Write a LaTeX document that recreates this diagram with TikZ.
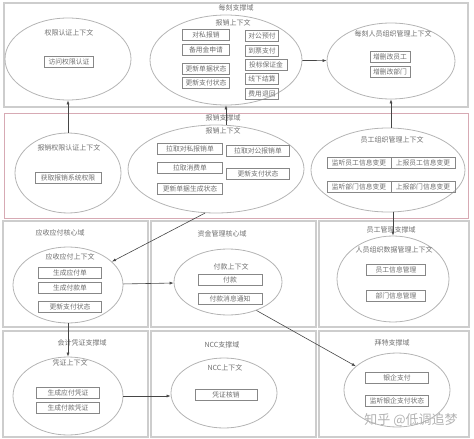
\documentclass[tikz,border=0pt]{standalone}
\usepackage{fontspec}
\newfontfamily\cjk{Noto Sans CJK SC}
\usetikzlibrary{shapes.geometric,arrows.meta}
\definecolor{dline}{RGB}{205,205,205}
\definecolor{rline}{RGB}{215,170,180}
\definecolor{eline}{RGB}{180,180,180}
\definecolor{bline}{RGB}{135,135,135}
\definecolor{tcol}{RGB}{110,110,110}
\definecolor{acol}{RGB}{70,70,70}
\begin{document}
\begin{tikzpicture}[x=1pt,y=-1pt,
  dombox/.style={draw=dline, line width=1.3pt},
  reddombox/.style={draw=rline, line width=1pt},
  ctx/.style={ellipse, draw=eline, line width=0.8pt, inner sep=0pt},
  lbl/.style={font=\cjk\fontsize{7}{8}\selectfont, text=tcol, inner sep=0pt},
  itembox/.style={draw=bline, line width=0.7pt, font=\cjk\fontsize{6.8}{8}\selectfont, text=tcol,
               minimum height=11pt, inner sep=1pt, align=center},
  conn/.style={draw=acol, line width=0.6pt, -{Latex[length=4pt,width=3pt]}},
  wmark/.style={font=\cjk\fontsize{13}{14}\selectfont, text=black!30, inner sep=0pt}]
\useasboundingbox (0,0) rectangle (474,439);
% domains
\draw[dombox] (4,3) rectangle (468,107);
\draw[reddombox] (4,113) rectangle (468,218);
\draw[dombox] (3,221) rectangle (148,327);
\draw[dombox] (151,221) rectangle (316,327);
\draw[dombox] (319,221) rectangle (469,327);
\draw[dombox] (3,331) rectangle (148,437);
\draw[dombox] (151,331) rectangle (316,437);
\draw[dombox] (319,331) rectangle (469,437);
\node[lbl] (t1) at (236,8) {每刻支撑域};
\node[lbl] (t2) at (223,118) {报销支撑域};
\node[lbl] (t3) at (60,233) {应收应付核心域};
\node[lbl] (t4) at (222,234) {资金管理核心域};
\node[lbl] (t5) at (391,230) {员工管理支撑域};
\node[lbl] (t6) at (82,343) {会计凭证支撑域};
\node[lbl] (t7) at (222,345) {NCC支撑域};
\node[lbl] (t8) at (392,343) {拜特支撑域};
% row 1
\node[ctx, minimum width=126pt, minimum height=82pt] (a1) at (68,59) {};
\node[lbl] (a1l) at (69,33) {权限认证上下文};
\node[itembox, minimum width=49pt] (a1b1) at (69,62) {访问权限认证};
\node[ctx, minimum width=152pt, minimum height=90pt] (m1) at (226,60) {};
\node[lbl] (m1l) at (233,23) {报销上下文};
\node[itembox, minimum width=47pt] (m1b1) at (206,35) {对私报销};
\node[itembox, minimum width=47pt] (m1b2) at (206,50) {备用金申请};
\node[itembox, minimum width=47pt] (m1b3) at (206,69) {更新单据状态};
\node[itembox, minimum width=47pt] (m1b4) at (206,83) {更新支付状态};
\node[itembox, minimum width=33pt] (m1b5) at (262,36) {对公预付};
\node[itembox, minimum width=33pt] (m1b6) at (262,51) {到票支付};
\node[itembox, minimum width=42pt] (m1b7) at (266,65) {投标保证金};
\node[itembox, minimum width=33pt] (m1b8) at (262,79) {线下结算};
\node[itembox, minimum width=33pt] (m1b9) at (262,94) {费用退回};
\node[ctx, minimum width=128pt, minimum height=76pt] (p1) at (391,61) {};
\node[lbl] (p1l) at (393,34) {每刻人员组织管理上下文};
\node[itembox, minimum width=40pt] (p1b1) at (390,57) {增删改员工};
\node[itembox, minimum width=40pt] (p1b2) at (390,72) {增删改部门};
% row 2
\node[ctx, minimum width=106pt, minimum height=80pt] (a2) at (68,173) {};
\node[lbl] (a2l) at (69,148) {报销权限认证上下文};
\node[itembox, minimum width=66pt] (a2b1) at (68,178) {获取报销系统权限};
\node[ctx, minimum width=176pt, minimum height=88pt] (m2) at (216,169) {};
\node[lbl] (m2l) at (223,131) {报销上下文};
\node[itembox, minimum width=65pt] (m2b1) at (190,149) {拉取对私报销单};
\node[itembox, minimum width=65pt] (m2b2) at (190,168) {拉取消费单};
\node[itembox, minimum width=65pt] (m2b3) at (190,189) {更新单据生成状态};
\node[itembox, minimum width=63pt] (m2b4) at (258,151) {拉取对公报销单};
\node[itembox, minimum width=63pt] (m2b5) at (258,174) {更新支付状态};
\node[ctx, minimum width=154pt, minimum height=84pt] (e2) at (388,170) {};
\node[lbl] (e2l) at (392,140) {员工组织管理上下文};
\node[itembox, minimum width=64pt] (e2b1) at (359,163) {监听员工信息变更};
\node[itembox, minimum width=64pt] (e2b2) at (423,163) {上报员工信息变更};
\node[itembox, minimum width=64pt] (e2b3) at (359,187) {监听部门信息变更};
\node[itembox, minimum width=64pt] (e2b4) at (423,187) {上报部门信息变更};
% row 3
\node[ctx, minimum width=110pt, minimum height=76pt] (ar) at (68,285) {};
\node[lbl] (arl) at (70,257) {应收应付上下文};
\node[itembox, minimum width=63pt] (arb1) at (70,273) {生成应付单};
\node[itembox, minimum width=63pt] (arb2) at (70,288) {生成付款单};
\node[itembox, minimum width=63pt] (arb3) at (70,307) {更新支付状态};
\node[ctx, minimum width=108pt, minimum height=66pt] (pay) at (228,282) {};
\node[lbl] (payl) at (231,267) {付款上下文};
\node[itembox, minimum width=64pt] (payb1) at (230,280) {付款};
\node[itembox, minimum width=64pt] (payb2) at (230,299) {付款消息通知};
\node[ctx, minimum width=112pt, minimum height=86pt] (e3) at (393,279) {};
\node[lbl] (e3l) at (394,250) {人员组织数据管理上下文};
\node[itembox, minimum width=59pt] (e3b1) at (396,270) {员工信息管理};
\node[itembox, minimum width=59pt] (e3b2) at (396,296) {部门信息管理};
% row 4
\node[ctx, minimum width=110pt, minimum height=78pt] (v) at (68,396) {};
\node[lbl] (vl) at (70,363) {凭证上下文};
\node[itembox, minimum width=63pt] (vb1) at (68,393) {生成应付凭证};
\node[itembox, minimum width=63pt] (vb2) at (68,408) {生成付款凭证};
\node[ctx, minimum width=106pt, minimum height=70pt] (ncc) at (224,393) {};
\node[lbl] (nccl) at (225,368) {NCC上下文};
\node[itembox, minimum width=62pt] (nccb1) at (226,395) {凭证核销};
\node[ctx, minimum width=106pt, minimum height=74pt] (bt) at (397,390) {};
\node[itembox, minimum width=63pt] (btb1) at (397,378) {银企支付};
\node[itembox, minimum width=63pt] (btb2) at (397,401) {监听银企支付状态};
\node[wmark] (wm) at (411,420) {知乎 @低调追梦};
% connectors
\draw[conn] (m1) -- (p1);
\draw[conn] (a2.north) -- (a1.south);
\draw[conn] (m2.north -| m1.south) -- (m1.south);
\draw[conn] (e2.north -| p1.south) -- (p1.south);
\draw[conn] (e2.south -| e3.north) -- (e3.north);
\draw[conn] (m2.256) -- (ar.28);
\draw[conn] (ar) -- (pay);
\draw[conn] (ar.south) -- (v.north);
\draw[conn] (v.east) -- (v.east -| ncc.west);
\draw[conn] (pay.-45) -- (bt.150);
\end{tikzpicture}
\end{document}
